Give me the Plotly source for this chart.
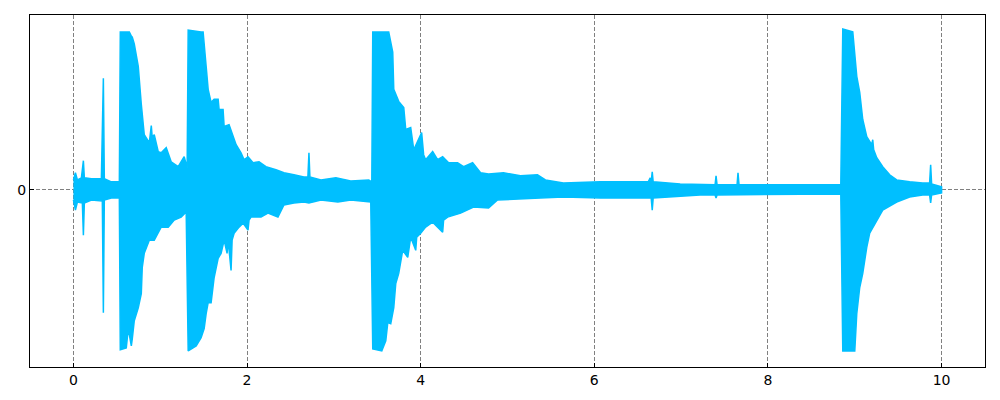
import plotly.graph_objects as go

# Upper envelope of the waveform (time in s, amplitude)
upper_t = [0.000, 0.023, 0.046, 0.092, 0.115, 0.126, 0.207, 0.322, 0.345, 0.356, 0.437, 0.529,
           0.540, 0.644, 0.667, 0.678, 0.701, 0.747, 0.782, 0.805, 0.816, 0.874, 0.897, 0.908,
           0.931, 0.977, 1.011, 1.069, 1.126, 1.207, 1.276, 1.310,
           1.322, 1.471, 1.494, 1.529, 1.552, 1.586, 1.621, 1.667, 1.678, 1.724, 1.736, 1.793,
           1.839, 1.874, 1.931, 1.966, 2.011, 2.069, 2.138, 2.218, 2.333, 2.425, 2.540, 2.655,
           2.701, 2.713, 2.724, 2.851, 3.023, 3.195, 3.402, 3.437,
           3.448, 3.632, 3.678, 3.690, 3.747, 3.805, 3.828, 3.885, 3.920, 3.954, 4.011, 4.034,
           4.057, 4.138, 4.195, 4.253, 4.322, 4.425, 4.494, 4.598, 4.690, 4.782, 4.885, 4.954,
           5.149, 5.345, 5.437, 5.644, 6.069, 6.621, 6.644, 6.655, 6.667, 6.678, 6.989, 7.391,
           7.402, 7.414, 7.644, 7.655, 7.667, 8.368, 8.839,
           8.862, 8.977, 9.023, 9.057, 9.092, 9.138, 9.195, 9.207, 9.218, 9.253, 9.322, 9.402,
           9.483, 9.632, 9.782, 9.862, 9.874, 9.885, 10.000]
upper_y = [0.063, 0.108, 0.063, 0.076, 0.184, 0.076, 0.070, 0.070, 0.703, 0.070, 0.051, 0.051,
           0.994, 0.994, 0.968, 0.962, 0.918, 0.777, 0.538, 0.430, 0.348, 0.297, 0.405, 0.329,
           0.348, 0.241, 0.234, 0.266, 0.177, 0.146, 0.209, 0.139,
           1.006, 0.994, 0.994, 0.777, 0.633, 0.551, 0.570, 0.570, 0.506, 0.506, 0.399, 0.411,
           0.335, 0.285, 0.234, 0.190, 0.209, 0.171, 0.177, 0.146, 0.127, 0.108, 0.095, 0.082,
           0.082, 0.234, 0.082, 0.063, 0.076, 0.057, 0.063, 0.051,
           0.994, 0.994, 0.867, 0.633, 0.557, 0.519, 0.380, 0.392, 0.253, 0.297, 0.361, 0.222,
           0.190, 0.241, 0.190, 0.209, 0.171, 0.171, 0.146, 0.171, 0.108, 0.101, 0.108, 0.108,
           0.089, 0.095, 0.063, 0.044, 0.051, 0.051, 0.076, 0.051, 0.114, 0.051, 0.038, 0.032,
           0.089, 0.032, 0.032, 0.108, 0.032, 0.032, 0.032,
           1.013, 0.994, 0.715, 0.614, 0.443, 0.335, 0.285, 0.316, 0.253, 0.203, 0.146, 0.095,
           0.063, 0.051, 0.044, 0.044, 0.158, 0.038, 0.019]

# Lower envelope of the waveform (time in s, amplitude)
lower_t = [0.000, 0.023, 0.046, 0.103, 0.115, 0.126, 0.207, 0.333, 0.345, 0.356, 0.437, 0.529,
           0.540, 0.609, 0.632, 0.667, 0.678, 0.701, 0.747, 0.782, 0.793, 0.816, 0.874, 0.931,
           0.977, 1.011, 1.092, 1.161, 1.241, 1.299,
           1.322, 1.414, 1.471, 1.506, 1.529, 1.552, 1.586, 1.621, 1.667, 1.701, 1.736, 1.770,
           1.782, 1.816, 1.828, 1.851, 1.908, 1.954, 2.011, 2.023, 2.046, 2.161, 2.241, 2.356,
           2.425, 2.540, 2.655, 2.713, 2.851, 3.046, 3.195, 3.425,
           3.448, 3.552, 3.598, 3.621, 3.655, 3.690, 3.713, 3.747, 3.793, 3.851, 3.885, 3.943,
           3.954, 4.000, 4.057, 4.138, 4.253, 4.264, 4.310, 4.460, 4.609, 4.782, 4.885, 5.115,
           5.379, 5.644, 6.069, 6.655, 6.667, 6.678, 7.218, 7.391, 7.402, 7.414, 8.839,
           8.862, 9.000, 9.023, 9.057, 9.092, 9.138, 9.172, 9.253, 9.322, 9.483, 9.632, 9.782,
           9.862, 9.874, 9.885, 10.000]
lower_y = [-0.063, -0.127, -0.076, -0.082, -0.285, -0.082, -0.063, -0.070, -0.772, -0.063, -0.051, -0.051,
           -1.006, -0.994, -0.873, -0.981, -0.937, -0.823, -0.741, -0.652, -0.487, -0.399, -0.316, -0.316,
           -0.272, -0.234, -0.234, -0.190, -0.171, -0.139,
           -1.013, -0.981, -0.930, -0.873, -0.778, -0.709, -0.709, -0.551, -0.430, -0.399, -0.316, -0.399,
           -0.316, -0.506, -0.316, -0.272, -0.234, -0.209, -0.253, -0.190, -0.171, -0.171, -0.146, -0.171,
           -0.095, -0.082, -0.076, -0.082, -0.063, -0.076, -0.063, -0.076,
           -1.000, -1.013, -0.949, -0.835, -0.842, -0.741, -0.589, -0.525, -0.380, -0.424, -0.297, -0.380,
           -0.297, -0.272, -0.234, -0.203, -0.266, -0.190, -0.171, -0.146, -0.108, -0.114, -0.063, -0.057,
           -0.051, -0.044, -0.051, -0.051, -0.127, -0.051, -0.032, -0.032, -0.051, -0.032, -0.025,
           -1.013, -1.013, -0.778, -0.614, -0.525, -0.361, -0.272, -0.190, -0.127, -0.076, -0.044, -0.032,
           -0.032, -0.082, -0.032, -0.019]

x_ticks = [0, 2, 4, 6, 8, 10]
y_ticks = [0]

color = "#00BFFF"

poly_x = upper_t + lower_t[::-1]
poly_y = upper_y + lower_y[::-1]

fig = go.Figure()
fig.add_trace(go.Scatter(
    x=poly_x, y=poly_y, mode="lines", fill="toself",
    fillcolor=color, line=dict(color=color, width=1.5),
    hoverinfo="skip", showlegend=False,
))

axis_common = dict(
    showline=True, linecolor="black", linewidth=1, mirror=True,
    ticks="inside", ticklen=4, tickcolor="black", tickwidth=1,
    showgrid=True, gridcolor="gray", griddash="4px,2px", gridwidth=1,
    zeroline=False, automargin=False,
    tickfont=dict(family="DejaVu Sans", size=14, color="black"),
)

fig.update_xaxes(range=[-0.5, 10.5], tickvals=x_ticks, ticktext=[str(v) for v in x_ticks], **axis_common)
fig.update_yaxes(range=[-1.114, 1.1006], tickvals=y_ticks, ticktext=[str(v) for v in y_ticks], **axis_common)

# page body has an 8px margin, so the figure is sized to fit inside the window
fig.update_layout(
    width=984, height=384,
    margin=dict(l=22, r=7, t=7, b=25),
    paper_bgcolor="white", plot_bgcolor="white",
    showlegend=False,
)

fig.write_html("out.html")
